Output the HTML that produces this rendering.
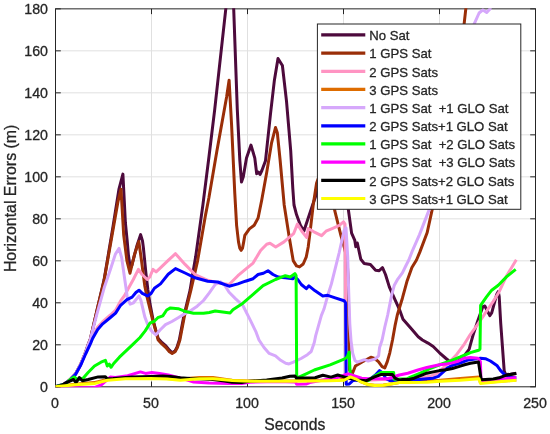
<!DOCTYPE html><html><head><meta charset="utf-8"><title>Horizontal Errors</title>
<style>html,body{margin:0;padding:0;background:#fff}svg{display:block}text{font-family:"Liberation Sans",sans-serif;fill:#262626;stroke:#262626;stroke-width:0.3px}</style></head><body>
<svg width="550" height="434" viewBox="0 0 550 434">
<rect width="550" height="434" fill="#fff"/>
<path d="M151.50 386.8V8.85M247.50 386.8V8.85M343.50 386.8V8.85M439.50 386.8V8.85M55.5 344.81H535.5M55.5 302.81H535.5M55.5 260.82H535.5M55.5 218.82H535.5M55.5 176.83H535.5M55.5 134.83H535.5M55.5 92.84H535.5M55.5 50.84H535.5" stroke="#e0e0e0" stroke-width="1" fill="none"/>
<path d="M55.50 386.8v-5.3M55.50 8.85v5.3M151.50 386.8v-5.3M151.50 8.85v5.3M247.50 386.8v-5.3M247.50 8.85v5.3M343.50 386.8v-5.3M343.50 8.85v5.3M439.50 386.8v-5.3M439.50 8.85v5.3M535.50 386.8v-5.3M535.50 8.85v5.3M55.5 386.80h5.3M535.5 386.80h-5.3M55.5 344.81h5.3M535.5 344.81h-5.3M55.5 302.81h5.3M535.5 302.81h-5.3M55.5 260.82h5.3M535.5 260.82h-5.3M55.5 218.82h5.3M535.5 218.82h-5.3M55.5 176.83h5.3M535.5 176.83h-5.3M55.5 134.83h5.3M535.5 134.83h-5.3M55.5 92.84h5.3M535.5 92.84h-5.3M55.5 50.84h5.3M535.5 50.84h-5.3M55.5 8.85h5.3M535.5 8.85h-5.3" stroke="#262626" stroke-width="1" fill="none"/>
<rect x="55.5" y="8.85" width="480.0" height="377.95" fill="none" stroke="#262626" stroke-width="1"/>
<defs><clipPath id="c"><rect x="55.0" y="8.35" width="481.0" height="378.95"/></clipPath></defs>
<g clip-path="url(#c)" fill="none" stroke-linejoin="round" stroke-linecap="butt">
<path d="M55.5 386.8L64.1 384.3L69.1 380.5L75.5 374.0L80.5 364.8L85.6 352.2L87.8 345.6L90.3 339.3L96.8 311.2L104.1 279.7L112.9 227.2L118.9 189.4L122.9 174.1L125.4 223.0L127.1 239.8L128.5 255.8L130.4 268.2L131.9 265.0L137.1 245.1L140.6 234.6L142.5 240.9L143.4 247.8L145.9 273.2L147.9 290.0L150.0 303.9L153.0 319.6L156.5 333.0L158.2 338.5L162.1 342.7L165.9 345.9L169.4 350.1L172.2 352.8L174.9 351.1L177.0 347.1L179.3 340.0L183.9 315.8L190.1 290.2L193.4 270.1L195.7 256.6L203.0 204.1L209.1 155.8L214.7 109.6L225.8 8.9L231.8 -45.7L233.7 8.9L237.3 109.6L239.8 160.0L241.5 182.1L243.3 176.8L246.5 157.9L251.0 145.1L254.8 158.1L256.7 173.7L258.4 172.0L260.0 174.5L261.9 170.5L265.5 160.7L270.5 113.8L274.4 80.2L278.0 58.6L282.4 65.5L286.5 101.2L290.7 150.6L292.8 188.4L294.0 205.0L296.5 214.6L300.3 225.1L303.8 231.2L308.0 218.8L312.6 205.0L316.6 193.6L320.5 185.2L328.1 176.8L337.7 183.1L343.5 193.6L348.3 209.2L351.6 233.1L354.8 240.4L355.8 246.7L357.3 243.0L360.8 259.3L364.2 263.5L370.4 264.4L375.6 270.3L379.2 270.7L382.5 267.7L385.5 274.5L389.4 287.1L394.4 298.4L399.4 309.3L403.0 319.2L410.7 328.0L418.2 336.8L422.4 340.0L428.0 343.1L433.2 346.5L439.5 352.8L446.0 358.5L449.1 361.0L452.9 362.7L458.7 360.6L464.5 355.3L469.1 349.4L472.9 335.6L477.9 320.4L482.9 306.6L484.8 306.0L489.8 315.6L491.7 312.9L496.7 294.4L498.3 291.5L499.2 296.5L500.7 323.0L504.2 370.8L505.5 374.6L510.5 374.2L516.3 373.2" stroke="#4d0a3c" stroke-width="3.0"/>
<path d="M55.5 386.8L64.1 384.3L69.1 380.5L75.5 374.0L80.5 364.8L85.6 352.2L87.8 345.6L90.3 339.3L96.8 311.2L104.1 280.6L112.9 230.4L117.9 202.0L121.0 189.2L123.7 235.0L126.9 260.6L130.0 273.2L134.6 254.1L138.8 241.5L141.5 260.6L144.8 286.0L146.9 296.5L148.8 304.1L152.5 319.4L156.5 333.7L158.2 340.0L162.1 344.2L165.9 347.5L169.4 351.7L172.2 353.4L175.1 351.7L177.4 347.5L179.9 340.0L184.5 315.8L190.9 290.2L197.6 260.8L205.6 214.6L208.9 197.8L216.8 151.6L226.6 97.0L229.1 80.2L231.6 125.4L234.8 193.6L236.6 225.3L238.5 241.9L239.8 248.2L241.2 250.3L242.5 248.2L243.7 241.9L244.8 235.4L249.4 228.9L254.2 225.3L258.1 218.0L261.7 200.3L266.7 172.6L271.5 143.2L275.5 127.5L277.3 132.7L280.1 160.0L284.2 205.0L289.2 236.9L293.2 260.6L296.5 265.9L299.5 266.9L303.2 264.0L306.3 256.8L308.2 247.0L310.9 225.1L313.2 205.0L316.6 183.1L320.5 172.6L325.3 164.2L330.1 181.0L334.7 210.4L341.0 235.8L344.5 248.2L347.0 258.7L348.1 277.6L348.7 313.3L348.9 344.8L349.5 370.0L352.3 373.8L355.4 366.0L361.7 362.2L370.8 357.2L374.6 358.5L378.4 361.6L382.1 366.6L384.8 367.9L387.3 361.6L389.8 352.8L392.5 340.0L395.0 325.9L397.3 315.0L402.4 298.2L406.9 281.6L411.9 267.5L416.5 260.0L419.7 252.4L427.2 232.5L432.0 210.4L439.5 170.5L449.1 113.8L458.7 55.0L464.1 24.2L465.8 8.9L470.2 -22.6" stroke="#9a2e08" stroke-width="3.0"/>
<path d="M55.5 386.8L64.1 384.3L69.1 380.5L75.5 374.0L80.5 365.0L85.6 353.2L90.3 341.7L97.7 327.0L102.7 321.7L110.4 315.0L115.6 310.2L120.6 300.9L124.6 295.5L128.3 288.5L133.3 279.5L138.4 269.4L142.1 274.5L147.3 279.5L149.8 277.0L153.0 269.4L156.1 271.9L159.4 268.8L168.2 260.4L175.5 253.7L185.1 264.4L195.1 274.5L207.8 280.3L217.7 282.9L229.1 284.5L237.9 275.7L245.4 269.4L253.1 263.1L260.6 250.5L266.7 244.2L270.0 243.2L275.7 247.0L284.0 241.9L293.6 233.7L297.4 224.1L301.8 231.2L306.8 237.5L308.2 228.5L313.9 231.8L321.6 235.6L326.0 231.2L332.7 228.3L339.3 225.3L343.5 221.8L345.0 224.1L345.8 376.3L347.3 378.4L362.7 380.5L381.9 379.5L401.1 379.5L420.3 378.0L431.8 375.7L437.6 373.2L443.3 367.9L447.8 363.1L451.0 360.3L456.0 355.3L464.5 343.8L470.4 334.3L477.9 324.2L485.4 312.9L493.1 301.6L499.2 291.7L506.7 275.7L516.3 259.8" stroke="#ff94c2" stroke-width="3.0"/>
<path d="M55.5 386.8L74.7 384.3L93.9 382.6L107.3 379.5L124.6 377.4L151.5 377.4L166.9 378.4L180.3 379.2L189.9 378.2L199.5 377.4L212.9 377.6L224.5 379.2L232.1 380.3L249.4 381.1L289.7 381.1L295.5 380.7L297.4 379.2L307.0 379.5L314.7 380.5L339.7 379.9L350.4 376.9L355.4 378.8L361.7 382.2L368.1 384.5L374.6 385.3L383.4 385.1L390.9 383.9L399.4 382.6L420.3 381.6L440.3 380.3L460.2 378.4L479.1 377.1L480.4 382.6L497.1 381.6L516.3 379.9" stroke="#de6c00" stroke-width="3.0"/>
<path d="M55.5 386.8L64.1 384.3L69.1 380.5L75.5 374.0L80.5 364.8L85.6 352.2L87.8 345.6L90.1 340.0L96.8 314.4L104.1 288.1L110.4 269.4L115.4 254.1L119.1 248.4L121.7 257.9L124.4 277.0L126.3 290.0L127.3 297.6L130.2 304.1L133.5 302.8L139.0 295.9L140.9 300.3L144.8 316.9L148.6 327.0L152.7 332.2L155.9 334.9L160.3 329.7L165.5 324.6L171.9 321.5L178.2 317.7L184.5 313.9L190.9 310.6L197.2 306.2L203.5 300.5L209.3 292.9L215.2 284.5L220.6 281.8L224.5 285.0L229.1 292.3L235.4 298.6L242.9 305.5L250.4 320.4L256.1 332.2L259.0 340.0L264.0 347.5L269.2 353.4L275.5 355.9L280.7 360.3L285.7 363.3L289.0 363.9L293.4 362.2L301.1 358.5L307.4 354.7L311.2 351.5L314.3 342.5L315.7 335.6L321.4 315.4L323.9 309.3L327.8 295.3L331.4 283.9L339.1 253.0L344.1 230.6L346.0 227.9L347.7 256.6L348.7 292.3L349.8 323.8L351.0 340.6L352.7 353.2L355.0 360.6L357.3 362.2L364.4 359.7L368.1 361.0L374.8 359.1L378.6 355.9L379.6 347.5L382.1 340.0L384.8 327.0L387.7 315.0L391.5 295.7L394.2 285.6L397.8 279.1L402.4 272.8L405.5 266.5L408.8 260.0L412.6 250.3L419.5 234.6L428.9 210.4L439.5 166.3L449.1 126.4L458.7 86.5L468.3 48.7L474.1 24.2L479.1 13.0L482.9 9.9L486.7 12.4L490.0 8.9L493.3 -3.7" stroke="#d6a8fb" stroke-width="3.0"/>
<path d="M55.5 386.8L64.1 384.3L69.1 380.7L75.5 374.4L80.5 365.6L85.6 354.0L90.6 343.3L92.6 338.5L97.7 329.5L102.7 323.8L110.4 317.5L115.6 313.1L120.6 305.3L126.9 299.7L132.1 297.1L135.9 292.5L139.0 290.2L142.3 293.4L147.5 295.9L151.1 293.4L154.4 288.3L160.5 283.9L168.2 274.3L175.5 268.6L185.1 273.0L195.1 277.8L207.8 281.2L217.7 282.0L229.1 286.2L237.9 283.9L245.4 281.2L253.1 278.7L258.1 274.5L263.4 273.2L268.0 270.7L273.0 274.5L278.2 277.0L285.3 277.8L292.8 278.7L295.1 277.0L297.8 279.5L301.3 284.5L306.3 288.7L308.9 285.8L315.1 290.8L322.8 295.9L327.8 295.3L335.2 297.8L344.1 300.7L345.6 302.8L346.2 384.3L349.3 383.9L353.1 380.5L358.9 380.1L364.6 380.5L370.4 378.8L375.2 375.3L379.6 370.6L382.9 373.2L385.7 378.4L389.6 380.5L401.1 382.2L414.2 380.1L426.8 378.8L433.2 378.2L438.3 376.3L443.3 371.9L447.2 368.1L452.4 365.4L458.7 363.5L468.3 359.9L480.4 358.2L485.4 358.7L490.4 361.0L496.9 365.4L500.6 370.6L504.4 374.4L508.6 376.5L513.4 377.6L516.3 377.8" stroke="#0000ff" stroke-width="3.0"/>
<path d="M55.5 386.8L65.1 384.3L70.1 379.5L74.1 376.9L77.6 379.7L83.1 378.2L88.1 372.5L94.5 366.0L101.0 362.2L105.4 360.3L107.3 366.0L109.3 364.1L111.0 367.3L113.7 363.5L119.4 357.2L132.9 344.4L140.0 337.5L145.2 330.9L150.2 322.8L154.0 321.5L157.8 317.7L162.8 315.8L166.7 310.0L170.5 307.9L178.2 308.7L184.5 311.2L193.5 313.3L203.5 313.3L209.3 312.5L215.2 311.0L230.2 312.9L232.9 309.7L242.9 303.2L253.1 294.4L263.1 285.6L275.5 279.5L285.3 275.7L290.3 277.0L294.9 273.6L296.1 275.5L296.7 378.2L305.1 374.4L314.3 370.0L330.1 364.8L344.1 359.1L347.1 357.2L349.1 352.2L350.2 373.8L358.9 379.5L368.5 380.5L375.2 375.7L380.9 372.5L393.6 372.5L394.4 379.2L406.9 378.8L409.9 377.4L420.3 373.2L429.9 368.7L440.3 364.5L450.3 360.8L460.2 357.0L470.4 352.6L478.5 350.3L480.0 349.0L480.6 305.3L486.5 296.9L491.7 290.2L498.3 285.2L506.7 276.6L515.7 269.4" stroke="#00ff00" stroke-width="3.0"/>
<path d="M55.5 386.8L65.1 386.2L74.7 387.8L93.9 387.8L101.6 384.7L110.2 377.1L115.4 377.6L127.7 375.7L140.4 371.9L145.5 373.4L151.9 372.5L159.6 373.4L168.4 375.0L178.6 377.6L184.1 379.0L193.7 382.0L209.1 383.0L228.3 383.4L241.7 383.4L249.4 382.2L266.7 381.8L285.9 381.8L295.5 382.0L296.7 384.3L306.1 384.1L310.9 382.2L327.8 379.2L337.7 377.4L347.7 373.8L355.4 376.3L361.7 378.2L368.1 378.8L378.1 378.8L387.7 378.8L395.5 376.3L399.4 375.0L407.8 373.2L418.0 370.0L426.8 367.5L439.5 364.8L446.0 364.1L452.4 362.9L458.7 361.0L464.5 358.2L470.4 357.4L477.9 358.2L480.4 361.6L481.0 380.5L493.1 380.1L504.8 378.8L516.3 377.4" stroke="#ff00ff" stroke-width="3.0"/>
<path d="M55.5 386.8L61.3 385.5L66.3 382.6L73.5 379.5L76.0 382.6L79.3 377.6L82.4 380.7L88.1 379.5L98.3 376.9L105.4 376.7L107.3 378.8L113.1 378.6L132.3 377.1L151.5 376.5L163.0 376.1L170.7 376.5L180.3 377.8L189.9 378.6L199.5 378.8L212.9 379.5L224.5 380.9L232.1 382.2L241.7 382.4L249.4 381.3L266.7 380.1L282.1 378.0L289.9 376.3L294.9 375.9L296.3 378.0L315.1 377.8L322.8 375.3L331.0 377.1L337.7 375.0L344.1 376.9L349.3 378.4L356.9 379.9L366.5 380.7L374.6 376.9L380.9 374.6L392.5 374.6L395.0 378.2L399.4 380.1L402.6 379.5L408.8 379.5L414.2 378.2L420.5 375.7L426.8 373.2L433.2 371.9L439.5 370.6L446.0 369.8L452.4 368.5L458.7 366.6L464.5 364.8L470.4 363.3L478.5 362.0L481.2 379.7L493.3 379.0L499.0 377.8L505.7 375.3L516.3 373.4" stroke="#000000" stroke-width="3.0"/>
<path d="M55.5 386.8L75.1 384.7L95.2 383.4L107.7 380.3L125.4 378.8L150.5 378.4L166.9 379.0L180.3 380.3L189.9 379.5L199.5 378.8L212.9 378.8L224.5 379.7L232.1 380.5L249.4 381.3L289.7 381.3L314.7 380.9L330.1 380.7L344.1 380.3L350.4 376.9L355.4 378.8L361.7 382.2L368.1 384.5L374.6 385.4L383.4 385.2L390.9 383.9L399.4 382.6L403.0 382.4L427.0 382.2L440.3 381.3L460.2 380.3L479.1 378.8L480.4 383.4L493.1 382.2L516.3 380.3" stroke="#ffff00" stroke-width="3.0"/>
</g>
<text x="55.0" y="408.3" font-size="14.2" text-anchor="middle">0</text>
<text x="151.0" y="408.3" font-size="14.2" text-anchor="middle">50</text>
<text x="247.0" y="408.3" font-size="14.2" text-anchor="middle">100</text>
<text x="343.0" y="408.3" font-size="14.2" text-anchor="middle">150</text>
<text x="439.0" y="408.3" font-size="14.2" text-anchor="middle">200</text>
<text x="535.0" y="408.3" font-size="14.2" text-anchor="middle">250</text>
<text x="48" y="392.3" font-size="14.2" text-anchor="end">0</text>
<text x="48" y="350.3" font-size="14.2" text-anchor="end">20</text>
<text x="48" y="308.3" font-size="14.2" text-anchor="end">40</text>
<text x="48" y="266.3" font-size="14.2" text-anchor="end">60</text>
<text x="48" y="224.3" font-size="14.2" text-anchor="end">80</text>
<text x="48" y="182.3" font-size="14.2" text-anchor="end">100</text>
<text x="48" y="140.3" font-size="14.2" text-anchor="end">120</text>
<text x="48" y="98.3" font-size="14.2" text-anchor="end">140</text>
<text x="48" y="56.3" font-size="14.2" text-anchor="end">160</text>
<text x="48" y="14.4" font-size="14.2" text-anchor="end">180</text>
<text x="294.8" y="430.2" font-size="15.7" text-anchor="middle">Seconds</text>
<text transform="translate(15.6 198.4) rotate(-90)" font-size="15.9" text-anchor="middle">Horizontal Errors (m)</text>
<rect x="317.4" y="24.0" width="203.39999999999998" height="185.3" fill="#fff" stroke="#262626" stroke-width="1"/>
<path d="M321.2 34.95H365.3" stroke="#4d0a3c" stroke-width="3.2" fill="none"/>
<text x="369.3" y="40.25" font-size="13.15" fill="#000" stroke="#000" stroke-width="0.5" xml:space="preserve">No Sat</text>
<path d="M321.2 53.12H365.3" stroke="#9a2e08" stroke-width="3.2" fill="none"/>
<text x="369.3" y="58.42" font-size="13.15" fill="#000" stroke="#000" stroke-width="0.5" xml:space="preserve">1 GPS Sat</text>
<path d="M321.2 71.29H365.3" stroke="#ff94c2" stroke-width="3.2" fill="none"/>
<text x="369.3" y="76.59" font-size="13.15" fill="#000" stroke="#000" stroke-width="0.5" xml:space="preserve">2 GPS Sats</text>
<path d="M321.2 89.46H365.3" stroke="#de6c00" stroke-width="3.2" fill="none"/>
<text x="369.3" y="94.76" font-size="13.15" fill="#000" stroke="#000" stroke-width="0.5" xml:space="preserve">3 GPS Sats</text>
<path d="M321.2 107.63H365.3" stroke="#d6a8fb" stroke-width="3.2" fill="none"/>
<text x="369.3" y="112.93" font-size="13.15" fill="#000" stroke="#000" stroke-width="0.5" xml:space="preserve">1 GPS Sat  +1 GLO Sat</text>
<path d="M321.2 125.80H365.3" stroke="#0000ff" stroke-width="3.2" fill="none"/>
<text x="369.3" y="131.10" font-size="13.15" fill="#000" stroke="#000" stroke-width="0.5" xml:space="preserve">2 GPS Sats+1 GLO Sat</text>
<path d="M321.2 143.97H365.3" stroke="#00ff00" stroke-width="3.2" fill="none"/>
<text x="369.3" y="149.27" font-size="13.15" fill="#000" stroke="#000" stroke-width="0.5" xml:space="preserve">1 GPS Sat  +2 GLO Sats</text>
<path d="M321.2 162.14H365.3" stroke="#ff00ff" stroke-width="3.2" fill="none"/>
<text x="369.3" y="167.44" font-size="13.15" fill="#000" stroke="#000" stroke-width="0.5" xml:space="preserve">1 GPS Sat  +3 GLO Sats</text>
<path d="M321.2 180.31H365.3" stroke="#000000" stroke-width="3.2" fill="none"/>
<text x="369.3" y="185.61" font-size="13.15" fill="#000" stroke="#000" stroke-width="0.5" xml:space="preserve">2 GPS Sats+2 GLO Sats</text>
<path d="M321.2 198.48H365.3" stroke="#ffff00" stroke-width="3.2" fill="none"/>
<text x="369.3" y="203.78" font-size="13.15" fill="#000" stroke="#000" stroke-width="0.5" xml:space="preserve">3 GPS Sats+1 GLO Sat</text>
</svg></body></html>
